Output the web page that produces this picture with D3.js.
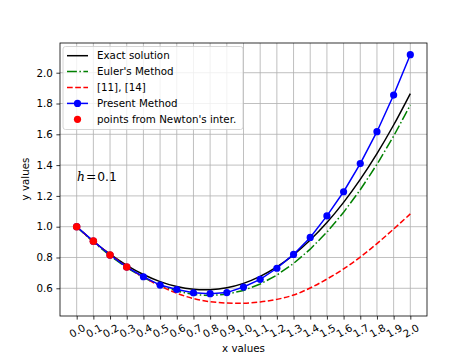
<!DOCTYPE html>
<html><head><meta charset="utf-8">
<script src="https://cdn.jsdelivr.net/npm/d3@7"></script>
<style>
body{margin:0;background:#fff;}
text{font-family:"DejaVu Sans",sans-serif;}
</style></head>
<body><svg id="c" width="474" height="355"></svg>
<script>
const xs = [0.0,0.1,0.2,0.3,0.4,0.5,0.6,0.7,0.8,0.9,1.0,1.1,1.2,1.3,1.4,1.5,1.6,1.7,1.8,1.9,2.0];
const exact = [1.0,0.9052,0.8213,0.7492,0.6897,0.6435,0.6112,0.5934,0.5907,0.6034,0.6321,0.6771,0.7388,0.8175,0.9134,1.0269,1.1581,1.3073,1.4747,1.6604,1.8647];
const euler = [1.0,0.9,0.811,0.7339,0.6695,0.6186,0.5817,0.5595,0.5526,0.5613,0.5862,0.6276,0.6858,0.7612,0.8541,0.9647,1.0932,1.2399,1.4049,1.5884,1.7906];
const ref1114 = [1.0,0.905,0.82,0.74,0.672,0.615,0.568,0.533,0.513,0.504,0.503,0.511,0.528,0.556,0.602,0.66,0.726,0.803,0.89,0.985,1.083];
const present = [1.0,0.906,0.816,0.738,0.675,0.621,0.592,0.571,0.565,0.572,0.608,0.658,0.73,0.82,0.93,1.07,1.227,1.41,1.617,1.855,2.117];
const newtonX = [0.0,0.1,0.2,0.3];
const newtonY = [1.0,0.906,0.816,0.738];
const xTicks = xs;
const yTicks = [0.6,0.8,1.0,1.2,1.4,1.6,1.8,2.0];
const legendLabels = ["Exact solution","Euler's Method","[11], [14]","Present Method","points from Newton's inter."];

const svg = d3.select("#c");
const L=60,R=427,T=43,B=316;
const x = d3.scaleLinear().domain([-0.1,2.1]).range([L,R]);
const y = d3.scaleLinear().domain([0.42,2.193]).range([B,T]);

// grid
const g = svg.append("g");
g.selectAll(".gx").data(xTicks).enter().append("line")
 .attr("x1",d=>x(d)).attr("x2",d=>x(d)).attr("y1",T).attr("y2",B)
 .attr("stroke","#b0b0b0").attr("stroke-width",0.8);
g.selectAll(".gy").data(yTicks).enter().append("line")
 .attr("y1",d=>y(d)).attr("y2",d=>y(d)).attr("x1",L).attr("x2",R)
 .attr("stroke","#b0b0b0").attr("stroke-width",0.8);

// axes
const xa = d3.axisBottom(x).tickValues(xTicks).tickFormat(d3.format(".1f")).tickSize(3.6).tickPadding(3.5);
const xg = svg.append("g").attr("transform",`translate(0,${B})`).call(xa);
xg.select(".domain").remove();
xg.selectAll(".tick line").attr("stroke","#000").attr("stroke-width",0.8);
xg.selectAll(".tick text").attr("font-size","10.3px").attr("fill","#000")
  .attr("font-family","DejaVu Sans")
  .attr("text-anchor","middle").attr("dominant-baseline","central")
  .attr("y",0).attr("dy",null)
  .attr("transform","translate(0,14.5) rotate(-30)");
const ya = d3.axisLeft(y).tickValues(yTicks).tickFormat(d3.format(".1f")).tickSize(3.6).tickPadding(3.5);
const yg = svg.append("g").attr("transform",`translate(${L},0)`).call(ya);
yg.select(".domain").remove();
yg.selectAll(".tick line").attr("stroke","#000").attr("stroke-width",0.8);
yg.selectAll(".tick text").attr("font-size","10.3px").attr("fill","#000").attr("font-family","DejaVu Sans");

const clip = svg.append("clipPath").attr("id","cp").append("rect").attr("x",L).attr("y",T).attr("width",R-L).attr("height",B-T);
const plot = svg.append("g").attr("clip-path","url(#cp)");

const pts = arr => xs.map((v,i)=>[v,arr[i]]);
const smooth = d3.line().x(d=>x(d[0])).y(d=>y(d[1])).curve(d3.curveCatmullRom);
const straight = d3.line().x(d=>x(d[0])).y(d=>y(d[1]));

plot.append("path").attr("d",smooth(pts(exact))).attr("fill","none").attr("stroke","#000").attr("stroke-width",1.5);
plot.append("path").attr("d",straight(pts(euler))).attr("fill","none").attr("stroke","#008000").attr("stroke-width",1.5)
  .attr("stroke-dasharray","9.9,2.5,1.5,2.5");
plot.append("path").attr("d",smooth(pts(ref1114))).attr("fill","none").attr("stroke","#ff0000").attr("stroke-width",1.5)
  .attr("stroke-dasharray","5.7,2.5");
plot.append("path").attr("d",straight(pts(present))).attr("fill","none").attr("stroke","#0000ff").attr("stroke-width",1.5);
plot.selectAll(".pm").data(pts(present)).enter().append("circle")
  .attr("cx",d=>x(d[0])).attr("cy",d=>y(d[1])).attr("r",3.6).attr("fill","#0000ff");
plot.selectAll(".nw").data(newtonX.map((v,i)=>[v,newtonY[i]])).enter().append("circle")
  .attr("cx",d=>x(d[0])).attr("cy",d=>y(d[1])).attr("r",3.8).attr("fill","#ff0000");

// spines
svg.append("rect").attr("x",L).attr("y",T).attr("width",R-L).attr("height",B-T)
  .attr("fill","none").attr("stroke","#000").attr("stroke-width",0.8);

// labels
svg.append("text").attr("x",(L+R)/2).attr("y",352).attr("text-anchor","middle").attr("font-size","10.3px").text("x values");
svg.append("text").attr("transform","translate(28.5,179) rotate(-90)").attr("text-anchor","middle").attr("font-size","10.3px").text("y values");

const ht = svg.append("text").attr("x",77).attr("y",181).attr("font-size","12.3px");
ht.append("tspan").attr("font-style","italic").attr("font-family","DejaVu Serif").text("h");
ht.append("tspan").attr("dx",1).text("=");
ht.append("tspan").attr("dx",1).text("0.1");

// legend
const lg = svg.append("g");
lg.append("rect").attr("x",63).attr("y",46.5).attr("width",180).attr("height",83).attr("rx",2.5)
  .attr("fill","#fff").attr("fill-opacity",0.8).attr("stroke","#cccccc").attr("stroke-width",0.8);
const styles = [
 {c:"#000",dash:null,line:true,mk:false},
 {c:"#008000",dash:"9.9,2.5,1.5,2.5",line:true,mk:false},
 {c:"#ff0000",dash:"5.7,2.5",line:true,mk:false},
 {c:"#0000ff",dash:null,line:true,mk:true},
 {c:"#ff0000",dash:null,line:false,mk:true}
];
legendLabels.forEach((lab,i)=>{
  const yy = 55.7 + i*15.9;
  const s = styles[i];
  if(s.line) lg.append("line").attr("x1",67).attr("x2",88).attr("y1",yy).attr("y2",yy)
     .attr("stroke",s.c).attr("stroke-width",1.5).attr("stroke-dasharray",s.dash);
  if(s.mk) lg.append("circle").attr("cx",77.5).attr("cy",yy).attr("r",3.6).attr("fill",s.c);
  lg.append("text").attr("x",97).attr("y",yy).attr("dy","0.36em").attr("font-size","10.3px").text(lab);
});
</script></body></html>
